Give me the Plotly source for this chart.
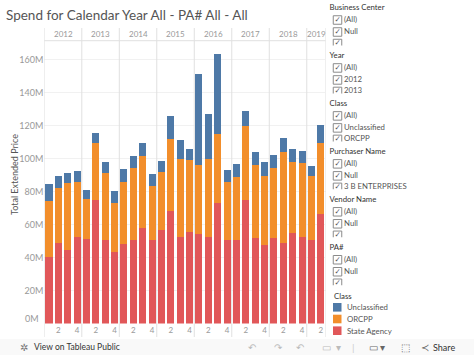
import plotly.graph_objects as go

W, H = 474, 355

# ---------------- data ----------------
years = ["2012", "2013", "2014", "2015", "2016", "2017", "2018", "2019"]
quarters_per_year = [4, 4, 4, 4, 4, 4, 4, 2]

state_agency = [40.2, 49.0, 44.7, 52.4, 51.0, 75.0, 50.4, 43.1, 48.4, 50.4,
                57.8, 50.4, 56.8, 68.0, 52.4, 55.3, 54.2, 52.4, 73.2, 50.4,
                50.9, 74.8, 52.0, 47.5, 51.6, 48.5, 54.8, 52.4, 50.4, 66.1]
orcpp = [33.8, 33.3, 40.4, 33.6, 24.6, 34.6, 40.6, 30.1, 37.3, 44.1,
         43.9, 33.1, 35.0, 44.0, 47.6, 43.6, 41.7, 47.5, 41.5, 35.3,
         37.7, 45.1, 43.9, 41.9, 42.9, 55.6, 42.8, 45.0, 38.9, 43.0]
unclassified = [10.3, 6.8, 6.4, 6.6, 5.5, 6.1, 6.7, 7.1, 7.9, 7.0,
                7.9, 7.3, 6.9, 14.0, 11.0, 6.6, 55.4, 27.3, 48.9, 7.6,
                7.9, 8.8, 8.1, 8.2, 7.9, 8.6, 8.3, 7.4, 6.2, 11.1]
y_ticks = [0, 20, 40, 60, 80, 100, 120, 140, 160]

series = [("State Agency", state_agency, "#e15759"),
          ("ORCPP", orcpp, "#f28e2b"),
          ("Unclassified", unclassified, "#4e79a7")]

filters = [("Business Center", ["(All)", "Null", ""]),
           ("Year", ["(All)", "2012", "2013"]),
           ("Class", ["(All)", "Unclassified", "ORCPP"]),
           ("Purchaser Name", ["(All)", "Null", "3 B ENTERPRISES"]),
           ("Vendor Name", ["(All)", "Null", ""]),
           ("PA#", ["(All)", "Null", ""])]

FONT = "Lato"
PANEL_FS = 7.8


def px_x(x):
    return x / W


def px_y(y):
    return 1 - y / H


x_idx = list(range(len(state_agency)))
qnums = [q for n in quarters_per_year for q in range(1, n + 1)]
tickvals = [i for i, q in enumerate(qnums) if q in (2, 4)]
ticktext = [str(qnums[i]) for i in tickvals]

fig = go.Figure()
for name, vals, color in series:
    fig.add_bar(x=x_idx, y=vals, name=name,
                marker=dict(color=color, line=dict(width=0)),
                showlegend=False, hoverinfo="skip")

PLOT_L, PLOT_R, PLOT_T, PLOT_B = 44.3, 325.5, 40.7, 323.5
YMAX = (PLOT_B - PLOT_T) / 1.65

# Tableau lifts the bottom ("0M") label inside the pane; shown separately below
y_ticktext = ["" if v == 0 else f"{v}M" for v in y_ticks]

fig.update_layout(
    barmode="stack", bargap=0.25,
    width=W, height=H, margin=dict(l=0, r=0, t=0, b=0),
    paper_bgcolor="white", plot_bgcolor="white",
    font=dict(family=FONT, color="#666"),
    hovermode=False,
    xaxis=dict(domain=[px_x(PLOT_L), px_x(PLOT_R)], range=[-0.5, len(x_idx) - 0.5],
               tickvals=tickvals, ticktext=ticktext, showgrid=False, zeroline=False,
               ticks="", tickfont=dict(size=8, color="#999"), automargin=False,
               fixedrange=True),
    yaxis=dict(domain=[px_y(PLOT_B), px_y(PLOT_T)], range=[0, YMAX],
               tickvals=y_ticks, ticktext=y_ticktext,
               showgrid=True, gridcolor="#f1f1f1", zeroline=False,
               ticks="", tickfont=dict(size=9, color="#999"), automargin=False,
               fixedrange=True),
)

shapes = []
annotations = []


def note(text, x, y, size, color, xanchor="center", **kw):
    annotations.append(dict(text=text, xref="paper", yref="paper", x=px_x(x), y=px_y(y),
                            xanchor=xanchor, yanchor="middle", showarrow=False,
                            font=dict(size=size, color=color), **kw))


# footer band
shapes.append(dict(type="rect", xref="paper", yref="paper", x0=0, x1=1,
                   y0=0, y1=px_y(339), fillcolor="#f9f9f9", line=dict(width=0),
                   layer="below"))

# year dividers
b = -0.5
bounds = [b]
for n in quarters_per_year:
    b += n
    bounds.append(b)
for bx in bounds:
    shapes.append(dict(type="line", xref="x", yref="paper", x0=bx, x1=bx,
                       y0=px_y(337), y1=px_y(28), line=dict(color="#e0e0e0", width=1)))
shapes.append(dict(type="line", xref="paper", yref="paper", x0=px_x(PLOT_L), x1=px_x(PLOT_R),
                   y0=px_y(PLOT_T), y1=px_y(PLOT_T), line=dict(color="#e0e0e0", width=1)))

# year headers
start = 0
for yr, n in zip(years, quarters_per_year):
    annotations.append(dict(text=yr, xref="x", yref="paper", x=start + (n - 1) / 2,
                            y=px_y(34), showarrow=False, xanchor="center", yanchor="middle",
                            font=dict(size=8, color="#999")))
    start += n

# bottom y label
note(f"{y_ticks[0]}M", 40.5, 318.5, 9, "#999", xanchor="right")

# title
note("Spend for Calendar Year All - PA# All - All", 4, 15, 13.5, "#555", xanchor="left")
# y axis title
note("Total Extended Price", 14, 175, 9, "#555", textangle=-90)

# footer
note("✲", 24, 347, 10, "#777")
note("View on Tableau Public", 32, 347, 8.5, "#333", xanchor="left")
for ch, xx, col in [("↶", 252, "#bbb"), ("↷", 278, "#bbb"), ("↶", 300, "#bbb"),
                    ("▭", 326, "#bbb"), ("▾", 338, "#bbb"), ("|", 353, "#ccc"),
                    ("▭", 373, "#666"), ("▾", 382, "#666"), ("⬚", 405, "#666"),
                    ("≺", 425, "#666")]:
    note(ch, xx, 347, 10, col)
note("Share", 431, 347, 9, "#333", xanchor="left")

# ---------------- right panel filters (clipped blocks) ----------------
PANEL_L = 325
for k, (head, items) in enumerate(filters):
    hy = 8 + 47.95 * k
    top, bottom = hy - 7, hy + 37.5
    ax = k + 2
    xa, ya = f"x{ax}", f"y{ax}"
    fig.update_layout(**{
        f"xaxis{ax}": dict(domain=[px_x(PANEL_L), 1], range=[PANEL_L, W], visible=False,
                           fixedrange=True, anchor=ya),
        f"yaxis{ax}": dict(domain=[px_y(bottom), px_y(top)], range=[bottom, top], visible=False,
                           fixedrange=True, anchor=xa),
    })
    iy = [hy + 12, hy + 24, hy + 35.5]
    fig.add_scatter(x=[329.5], y=[hy], mode="text", text=[head], textposition="middle right",
                    textfont=dict(size=PANEL_FS, color="#333", family=FONT), xaxis=xa, yaxis=ya,
                    cliponaxis=True, showlegend=False, hoverinfo="skip")
    fig.add_scatter(x=[337.5] * 3, y=iy, mode="markers",
                    marker=dict(symbol="square-open", size=8.5, color="#8a8a8a",
                                line=dict(width=1, color="#8a8a8a")),
                    xaxis=xa, yaxis=ya, cliponaxis=True, showlegend=False, hoverinfo="skip")
    fig.add_scatter(x=[337.6] * 3, y=iy, mode="text", text=["✓"] * 3, textposition="middle center",
                    textfont=dict(size=7.5, color="#555", family="DejaVu Sans"),
                    xaxis=xa, yaxis=ya, cliponaxis=True, showlegend=False, hoverinfo="skip")
    fig.add_scatter(x=[344] * 3, y=iy, mode="text", text=items, textposition="middle right",
                    textfont=dict(size=PANEL_FS, color="#555", family=FONT),
                    xaxis=xa, yaxis=ya, cliponaxis=True, showlegend=False, hoverinfo="skip")

# legend (Class)
note("Class", 331.5, 296, PANEL_FS, "#333", xanchor="left")
for i, (name, _, color) in enumerate(reversed(series)):
    ly = 307.3 + 11.7 * i
    shapes.append(dict(type="rect", xref="paper", yref="paper", x0=px_x(333), x1=px_x(341.5),
                       y0=px_y(ly + 4.3), y1=px_y(ly - 4.3), fillcolor=color, line=dict(width=0)))
    note(name, 344.5, ly, PANEL_FS, "#555", xanchor="left")

fig.update_layout(shapes=shapes, annotations=annotations)
fig.write_html("out.html", config={"displayModeBar": False},
               post_script="document.body.style.margin='0';document.body.style.overflow='hidden';")
